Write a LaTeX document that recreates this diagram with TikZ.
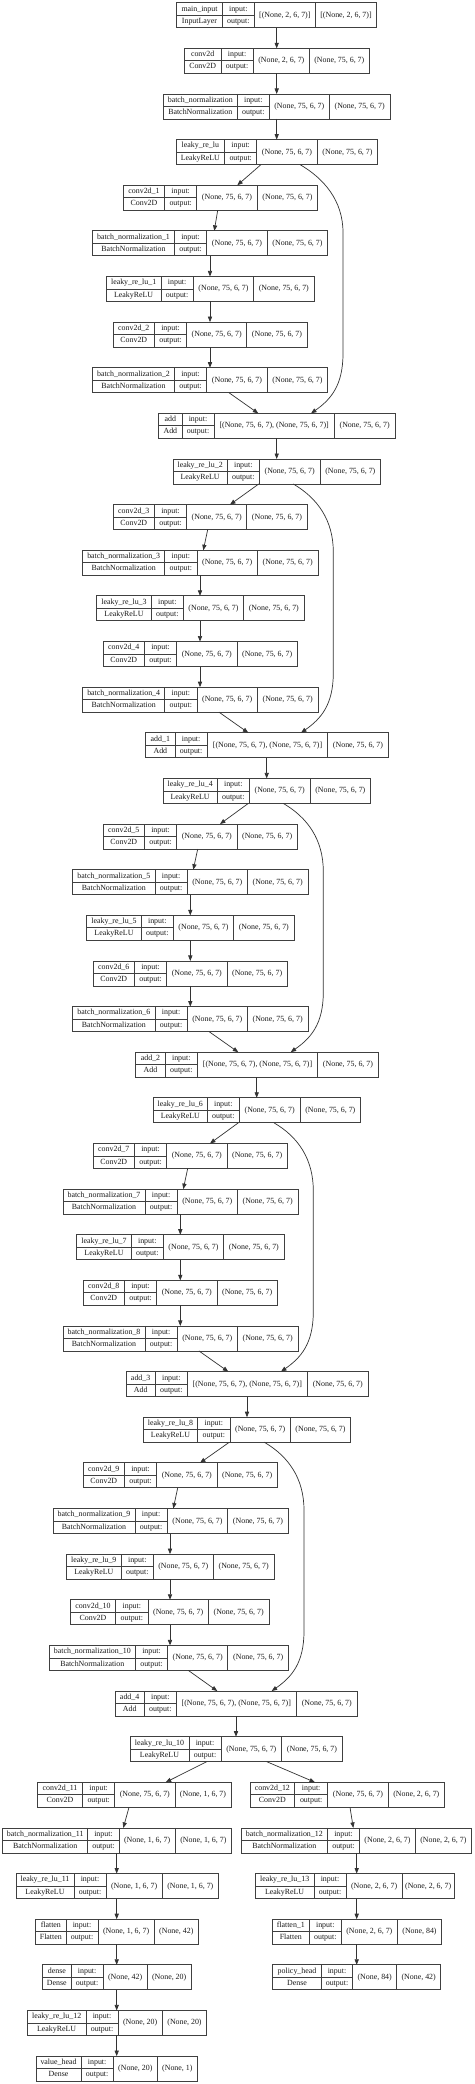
\documentclass[tikz,border=0pt]{standalone}
\usepackage{fontspec}
\setmainfont{Liberation Serif}
\usetikzlibrary{arrows.meta}
\tikzset{
  kbox/.style={draw=black!75, line width=0.8pt, rectangle, inner sep=0pt, outer sep=0pt, minimum height=25pt},
  kline/.style={draw=black!75, line width=0.8pt},
  ktext/.style={inner sep=0pt, text=black!90, font=\fontsize{7.9}{9}\selectfont, text height=5.3pt, text depth=1.7pt},
  karr/.style={draw=black!80, line width=0.7pt, -{Triangle[length=5.5pt,width=4.2pt]}}
}
\newcommand\klay[8]{%
  \pgfmathsetmacro\ky{2.7+45.63*#2}%
  \pgfmathsetmacro\kyb{\ky+25}%
  \pgfmathsetmacro\kym{\ky+12.5}%
  \node[kbox, minimum width={(#7-#3)*1pt}, anchor=north west] (#1) at (#3,\ky) {};
  \draw[kline] (#4,\ky) -- (#4,\kyb) (#5,\ky) -- (#5,\kyb) (#6,\ky) -- (#6,\kyb) (#3,\kym) -- (#5,\kym);
  \node[ktext] (#1-n) at ({(#3+#4)/2},{\ky+6.6}) {#8};
  \node[ktext] (#1-i) at ({(#4+#5)/2},{\ky+6.6}) {input:};
  \node[ktext] (#1-o) at ({(#4+#5)/2},{\ky+18.8}) {output:};
  \xdef\kxa{#3}\xdef\kxb{#4}\xdef\kxc{#5}\xdef\kxd{#6}\xdef\kxe{#7}\xdef\kname{#1}\xdef\kyy{\ky}}
\newcommand\ktxt[3]{%
  \node[ktext] (\kname-c) at ({(\kxa+\kxb)/2},{\kyy+18.8}) {#1};
  \node[ktext] (\kname-si) at ({(\kxc+\kxd)/2},{\kyy+12.7}) {#2};
  \node[ktext] (\kname-so) at ({(\kxd+\kxe)/2},{\kyy+12.7}) {#3};}
\newcommand\kedge[4]{\draw[karr] (#2,0 |- #1.south) -- (#4,0 |- #3.north);}
\newcommand\kskip[6]{%
  \pgfmathsetmacro\kya{2.7+45.63*#2+25+68}%
  \pgfmathsetmacro\kyc{2.7+45.63*(#2+6)-60}%
  \draw[karr] (#3,0 |- #1.south) .. controls +(24,14) and +(0,-32) .. (#4,\kya) -- (#4,\kyc) .. controls +(0,32) and +(20,-14) .. (#6,0 |- #5.north);}
\def\sh{(None, 75, 6, 7)}
\begin{document}
\begin{tikzpicture}[x=1pt,y=-1pt]
\fill[white] (0,0) rectangle (474,2084);
\useasboundingbox (0,0) rectangle (474,2084);
% stem
\klay{in0}{0}{176.7}{222.3}{254.3}{315.3}{376.7}{main\_input}\ktxt{InputLayer}{[(None, 2, 6, 7)]}{[(None, 2, 6, 7)]}
\klay{cv0}{1}{184.3}{221}{253.3}{309.3}{369.3}{conv2d}\ktxt{Conv2D}{(None, 2, 6, 7)}{\sh}
\klay{bn0}{2}{163.3}{237.3}{269.3}{329.3}{390}{batch\_normalization}\ktxt{BatchNormalization}{\sh}{\sh}
\klay{lr0}{3}{176}{224.7}{256.7}{317.3}{377.7}{leaky\_re\_lu}\ktxt{LeakyReLU}{\sh}{\sh}
% block 1
\klay{cv1}{4}{123.3}{164.7}{196.7}{257.3}{317.7}{conv2d\_1}\ktxt{Conv2D}{\sh}{\sh}
\klay{bn1}{5}{92.7}{174.3}{206.7}{267.3}{327.7}{batch\_normalization\_1}\ktxt{BatchNormalization}{\sh}{\sh}
\klay{lr1}{6}{106.3}{161}{193.3}{253.7}{314}{leaky\_re\_lu\_1}\ktxt{LeakyReLU}{\sh}{\sh}
\klay{cv2}{7}{113.3}{154.3}{186.7}{246.7}{307.3}{conv2d\_2}\ktxt{Conv2D}{\sh}{\sh}
\klay{bn2}{8}{92.7}{174.3}{206.7}{267.3}{327.7}{batch\_normalization\_2}\ktxt{BatchNormalization}{\sh}{\sh}
\klay{ad0}{9}{158.7}{182}{214}{334.3}{395}{add}\ktxt{Add}{[\sh, \sh]}{\sh}
\klay{lr2}{10}{173}{227.3}{259.3}{320}{380.7}{leaky\_re\_lu\_2}\ktxt{LeakyReLU}{\sh}{\sh}
% block 2
\klay{cv3}{11}{113.3}{154.3}{186.7}{246.7}{307.3}{conv2d\_3}\ktxt{Conv2D}{\sh}{\sh}
\klay{bn3}{12}{82.7}{164.7}{197}{257.3}{318}{batch\_normalization\_3}\ktxt{BatchNormalization}{\sh}{\sh}
\klay{lr3}{13}{96.7}{151.3}{183.3}{243.7}{304}{leaky\_re\_lu\_3}\ktxt{LeakyReLU}{\sh}{\sh}
\klay{cv4}{14}{103.3}{144.3}{176.7}{237}{297.3}{conv2d\_4}\ktxt{Conv2D}{\sh}{\sh}
\klay{bn4}{15}{82.7}{164.7}{197}{257.3}{318}{batch\_normalization\_4}\ktxt{BatchNormalization}{\sh}{\sh}
\klay{ad1}{16}{145.7}{175}{207.3}{327.7}{388.3}{add\_1}\ktxt{Add}{[\sh, \sh]}{\sh}
\klay{lr4}{17}{163}{217.3}{249.3}{310}{370.7}{leaky\_re\_lu\_4}\ktxt{LeakyReLU}{\sh}{\sh}
% block 3
\klay{cv5}{18}{103.3}{144.3}{176.7}{237}{297.3}{conv2d\_5}\ktxt{Conv2D}{\sh}{\sh}
\klay{bn5}{19}{72.7}{155}{187.3}{247.3}{308}{batch\_normalization\_5}\ktxt{BatchNormalization}{\sh}{\sh}
\klay{lr5}{20}{86.7}{141.3}{173.3}{233.7}{294}{leaky\_re\_lu\_5}\ktxt{LeakyReLU}{\sh}{\sh}
\klay{cv6}{21}{93.3}{134.3}{166.7}{227}{287.3}{conv2d\_6}\ktxt{Conv2D}{\sh}{\sh}
\klay{bn6}{22}{72.7}{155}{187.3}{247.3}{308}{batch\_normalization\_6}\ktxt{BatchNormalization}{\sh}{\sh}
\klay{ad2}{23}{135.7}{165.3}{197.3}{317.7}{378.3}{add\_2}\ktxt{Add}{[\sh, \sh]}{\sh}
\klay{lr6}{24}{153.3}{207.3}{239.3}{300}{360.7}{leaky\_re\_lu\_6}\ktxt{LeakyReLU}{\sh}{\sh}
% block 4
\klay{cv7}{25}{93.3}{134.3}{166.7}{227}{287.3}{conv2d\_7}\ktxt{Conv2D}{\sh}{\sh}
\klay{bn7}{26}{63}{145}{177.3}{237.3}{298}{batch\_normalization\_7}\ktxt{BatchNormalization}{\sh}{\sh}
\klay{lr7}{27}{76.7}{131.3}{163.3}{223.7}{284}{leaky\_re\_lu\_7}\ktxt{LeakyReLU}{\sh}{\sh}
\klay{cv8}{28}{83.3}{124.3}{156.7}{217}{277.3}{conv2d\_8}\ktxt{Conv2D}{\sh}{\sh}
\klay{bn8}{29}{63}{145}{177.3}{237.3}{298}{batch\_normalization\_8}\ktxt{BatchNormalization}{\sh}{\sh}
\klay{ad3}{30}{126}{155.3}{187.3}{307.3}{368.3}{add\_3}\ktxt{Add}{[\sh, \sh]}{\sh}
\klay{lr8}{31}{143.3}{197.7}{230}{290.3}{350.7}{leaky\_re\_lu\_8}\ktxt{LeakyReLU}{\sh}{\sh}
% block 5
\klay{cv9}{32}{83.3}{124.3}{156.7}{217}{277.3}{conv2d\_9}\ktxt{Conv2D}{\sh}{\sh}
\klay{bn9}{33}{53}{135}{167.3}{227.7}{288.3}{batch\_normalization\_9}\ktxt{BatchNormalization}{\sh}{\sh}
\klay{lr9}{34}{66.3}{121.3}{153.3}{213.3}{274}{leaky\_re\_lu\_9}\ktxt{LeakyReLU}{\sh}{\sh}
\klay{cv10}{35}{70.3}{115.7}{148}{208.3}{269}{conv2d\_10}\ktxt{Conv2D}{\sh}{\sh}
\klay{bn10}{36}{49.3}{135.3}{167.7}{227.7}{288.7}{batch\_normalization\_10}\ktxt{BatchNormalization}{\sh}{\sh}
\klay{ad4}{37}{115}{144.3}{176.3}{296.3}{357.3}{add\_4}\ktxt{Add}{[\sh, \sh]}{\sh}
\klay{lr10}{38}{130}{189}{221}{281.7}{342.3}{leaky\_re\_lu\_10}\ktxt{LeakyReLU}{\sh}{\sh}
% value head
\klay{cv11}{39}{37.3}{82.7}{114.7}{175}{231}{conv2d\_11}\ktxt{Conv2D}{\sh}{(None, 1, 6, 7)}
\klay{bn11}{40}{2.7}{87.7}{119.3}{175}{231.7}{batch\_normalization\_11}\ktxt{BatchNormalization}{(None, 1, 6, 7)}{(None, 1, 6, 7)}
\klay{lr11}{41}{16}{74}{106}{162.3}{218.3}{leaky\_re\_lu\_11}\ktxt{LeakyReLU}{(None, 1, 6, 7)}{(None, 1, 6, 7)}
\klay{fl0}{42}{35.7}{66}{98}{154.3}{198.3}{flatten}\ktxt{Flatten}{(None, 1, 6, 7)}{(None, 42)}
\klay{de0}{43}{42.7}{71}{103.3}{147}{191.3}{dense}\ktxt{Dense}{(None, 42)}{(None, 20)}
\klay{lr12}{44}{27.3}{86}{118}{162.3}{206.7}{leaky\_re\_lu\_12}\ktxt{LeakyReLU}{(None, 20)}{(None, 20)}
\klay{vh}{45}{36}{81}{113.3}{157.3}{197.3}{value\_head}\ktxt{Dense}{(None, 20)}{(None, 1)}
% policy head
\klay{cv12}{39}{250}{294.7}{327.7}{388.3}{444.3}{conv2d\_12}\ktxt{Conv2D}{\sh}{(None, 2, 6, 7)}
\klay{bn12}{40}{241}{327.7}{359.3}{415.7}{471}{batch\_normalization\_12}\ktxt{BatchNormalization}{(None, 2, 6, 7)}{(None, 2, 6, 7)}
\klay{lr13}{41}{255.3}{314}{346}{402.3}{454}{leaky\_re\_lu\_13}\ktxt{LeakyReLU}{(None, 2, 6, 7)}{(None, 2, 6, 7)}
\klay{fl1}{42}{272.3}{309.3}{341.3}{397.3}{441.7}{flatten\_1}\ktxt{Flatten}{(None, 2, 6, 7)}{(None, 84)}
\klay{ph}{43}{272.7}{321.3}{352.7}{396.7}{440.7}{policy\_head}\ktxt{Dense}{(None, 84)}{(None, 42)}
% edges: stem
\kedge{in0}{276.7}{cv0}{276.7}
\kedge{cv0}{276.7}{bn0}{276.7}
\kedge{bn0}{276.7}{lr0}{276.7}
% block 1
\kedge{lr0}{261}{cv1}{237.3}
\kedge{cv1}{217.7}{bn1}{214.3}
\kedge{bn1}{210}{lr1}{210}
\kedge{lr1}{210}{cv2}{210}
\kedge{cv2}{210}{bn2}{210}
\kedge{bn2}{229}{ad0}{258.3}
\kskip{lr0}{3}{300}{343}{ad0}{311}
\kedge{ad0}{276.7}{lr2}{276.7}
% block 2
\kedge{lr2}{258.7}{cv3}{230}
\kedge{cv3}{207.7}{bn3}{203.3}
\kedge{bn3}{200}{lr3}{200}
\kedge{lr3}{200}{cv4}{200}
\kedge{cv4}{200}{bn4}{200}
\kedge{bn4}{219}{ad1}{248.3}
\kskip{lr2}{10}{293.3}{333.3}{ad1}{301}
\kedge{ad1}{266.7}{lr4}{266.7}
% block 3
\kedge{lr4}{248.3}{cv5}{220}
\kedge{cv5}{197.7}{bn5}{193.3}
\kedge{bn5}{190.3}{lr5}{190.3}
\kedge{lr5}{190.3}{cv6}{190.3}
\kedge{cv6}{190.3}{bn6}{190.3}
\kedge{bn6}{209}{ad2}{238.3}
\kskip{lr4}{17}{283.3}{323.3}{ad2}{290.7}
\kedge{ad2}{256.7}{lr6}{256.7}
% block 4
\kedge{lr6}{238.3}{cv7}{210}
\kedge{cv7}{187.7}{bn7}{183.3}
\kedge{bn7}{180.3}{lr7}{180.3}
\kedge{lr7}{180.3}{cv8}{180.3}
\kedge{cv8}{180.3}{bn8}{180.3}
\kedge{bn8}{199}{ad3}{228.3}
\kskip{lr6}{24}{274}{313.3}{ad3}{281}
\kedge{ad3}{247}{lr8}{247}
% block 5
\kedge{lr8}{229.3}{cv9}{200}
\kedge{cv9}{177.7}{bn9}{173.3}
\kedge{bn9}{170}{lr9}{170}
\kedge{lr9}{170}{cv10}{170}
\kedge{cv10}{170}{bn10}{170}
\kedge{bn10}{188.3}{ad4}{217.3}
\kskip{lr8}{31}{264.3}{304}{ad4}{271.7}
\kedge{ad4}{236}{lr10}{236}
% heads
\kedge{lr10}{206.7}{cv11}{165.7}
\kedge{lr10}{266.7}{cv12}{315}
\kedge{cv11}{129}{bn11}{123.3}
\kedge{bn11}{116.7}{lr11}{116.7}
\kedge{lr11}{116.7}{fl0}{116.7}
\kedge{fl0}{116.7}{de0}{116.7}
\kedge{de0}{116.7}{lr12}{116.7}
\kedge{lr12}{116.7}{vh}{116.7}
\kedge{cv12}{350}{bn12}{353.3}
\kedge{bn12}{356.7}{lr13}{356.7}
\kedge{lr13}{356.7}{fl1}{356.7}
\kedge{fl1}{356.7}{ph}{356.7}
\end{tikzpicture}
\end{document}
